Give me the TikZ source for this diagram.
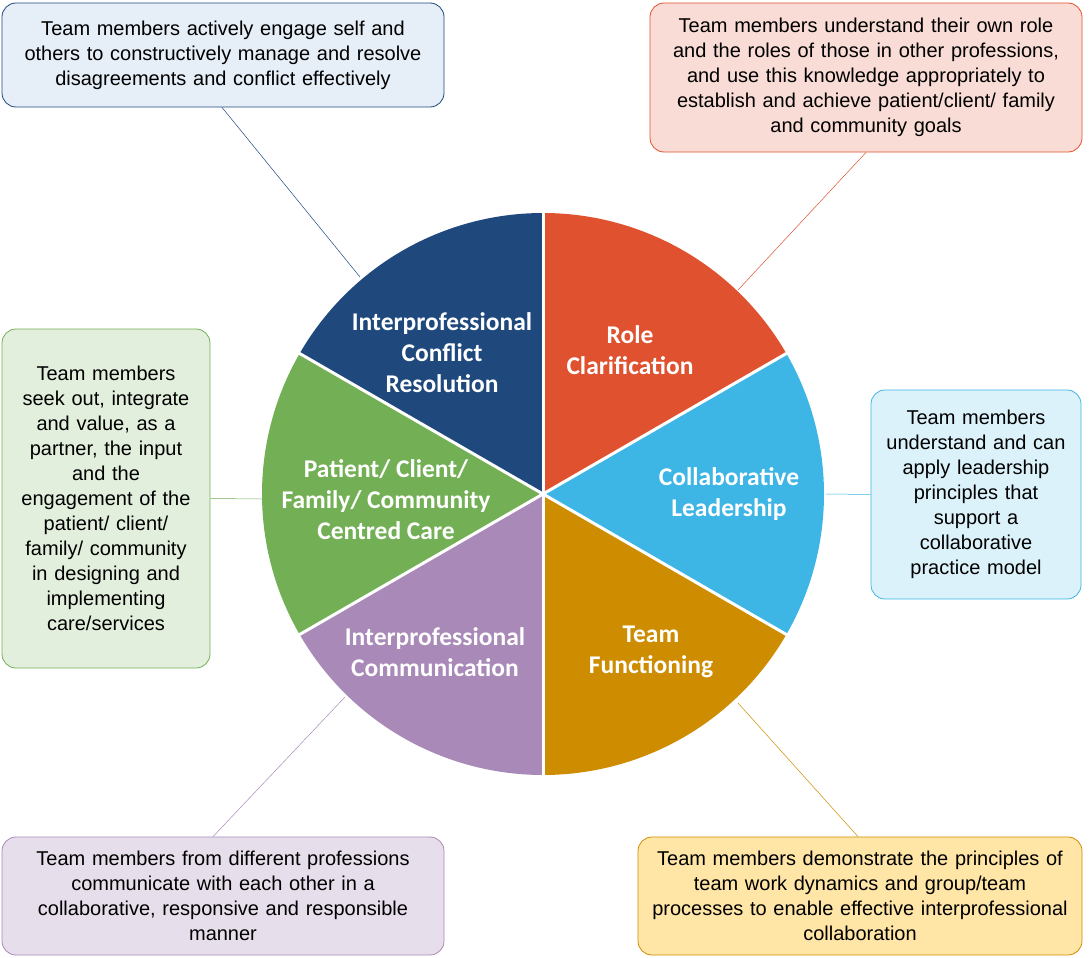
\documentclass[tikz,border=0pt]{standalone}
\usepackage{fontspec}
\setmainfont{Liberation Sans}
\newfontfamily\lblfont{Carlito}
\definecolor{cRed}{HTML}{E0522F}
\definecolor{cCyan}{HTML}{3DB5E5}
\definecolor{cOrange}{HTML}{CE8C00}
\definecolor{cPurple}{HTML}{A889B8}
\definecolor{cGreen}{HTML}{72AF55}
\definecolor{cNavy}{HTML}{1F497D}
\definecolor{fBlue}{HTML}{E6EEF8}
\definecolor{fOrange}{HTML}{FFE6A6}
\begin{document}
\begin{tikzpicture}[x=1pt,y=-1pt,
  box/.style={draw, rounded corners=14pt, line width=0.8pt, align=center, inner sep=0pt,
    font=\fontsize{20}{25}\selectfont},
  seg/.style={draw=white, line width=3pt},
  lbl/.style={text=white, align=center, font=\lblfont\bfseries\fontsize{25.5}{31}\selectfont},
  conn/.style={line width=0.5pt}]
\useasboundingbox (0,0) rectangle (1090,958);
\coordinate (c) at (543,494);
\def\R{281}
\foreach \a/\b/\col in {90/30/cRed,30/-30/cCyan,-30/-90/cOrange,-90/-150/cPurple,-150/-210/cGreen,150/90/cNavy}{
  \fill[\col] (c) -- ++(\a:\R pt) arc[start angle=\a, end angle=\b, radius=\R pt] -- cycle;
}
\foreach \a in {90,30,-30,-90,-150,150}{ \draw[seg] (c) -- ++(\a:\R pt+1pt); }
\node[lbl] (l1) at (442,353) {Interprofessional\\Conflict\\Resolution};
\node[lbl] (l2) at (630,350) {Role\\Clarification};
\node[lbl] (l3) at (729,494) {Collaborative\\Leadership};
\node[lbl] (l4) at (651,652) {Team\\Functioning};
\node[lbl] (l5) at (435,652) {Interprofessional\\Communication};
\node[lbl] (l6) at (386,500) {Patient/ Client/\\Family/ Community\\Centred Care};

\node[box, draw=cNavy, fill=fBlue, minimum width=442pt, minimum height=104pt, text width=436pt] (b1) at (223,55)
 {Team members actively engage self and\\others to constructively manage and resolve\\disagreements and conflict effectively};
\node[box, draw=cRed, fill=cRed!20, minimum width=432pt, minimum height=149pt, text width=428pt] (b2) at (866,77.5)
 {Team members understand their own role\\and the roles of those in other professions,\\and use this knowledge appropriately to\\establish and achieve patient/client/ family\\and community goals};
\node[box, draw=cCyan, fill=cCyan!18, minimum width=210pt, minimum height=209pt, text width=205pt] (b3) at (976,494.5)
 {Team members\\understand and can\\apply leadership\\principles that\\support a\\collaborative\\practice model};
\node[box, draw=cGreen, fill=cGreen!20, minimum width=208pt, minimum height=339pt, text width=204pt] (b4) at (106,498.5)
 {Team members\\seek out, integrate\\and value, as a\\partner, the input\\and the\\engagement of the\\patient/ client/\\family/ community\\in designing and\\implementing\\care/services};
\node[box, draw=cPurple, fill=cPurple!28, minimum width=442pt, minimum height=118pt, text width=436pt] (b5) at (223,896)
 {Team members from different professions\\communicate with each other in a\\collaborative, responsive and responsible\\manner};
\node[box, draw=cOrange, fill=fOrange, minimum width=444pt, minimum height=118pt, text width=442pt] (b6) at (860,896)
 {Team members demonstrate the principles of\\team work dynamics and group/team\\processes to enable effective interprofessional\\collaboration};

\coordinate (p1) at (360,277);
\coordinate (p2) at (738,290);
\coordinate (p3) at (826,494);
\coordinate (p4) at (262,499);
\coordinate (p5) at (345,697);
\coordinate (p6) at (738,703);
\draw[conn, draw=cNavy] (b1.south) ++(-1,0) -- (p1);
\draw[conn, draw=cRed] (b2.south) -- (p2);
\draw[conn, draw=cCyan] (b3.west) -- (p3);
\draw[conn, draw=cGreen] (b4.east) -- (p4);
\draw[conn, draw=cPurple] (b5.north) ++(-10,0) -- (p5);
\draw[conn, draw=cOrange] (b6.north) ++(-2,0) -- (p6);
\end{tikzpicture}
\end{document}
